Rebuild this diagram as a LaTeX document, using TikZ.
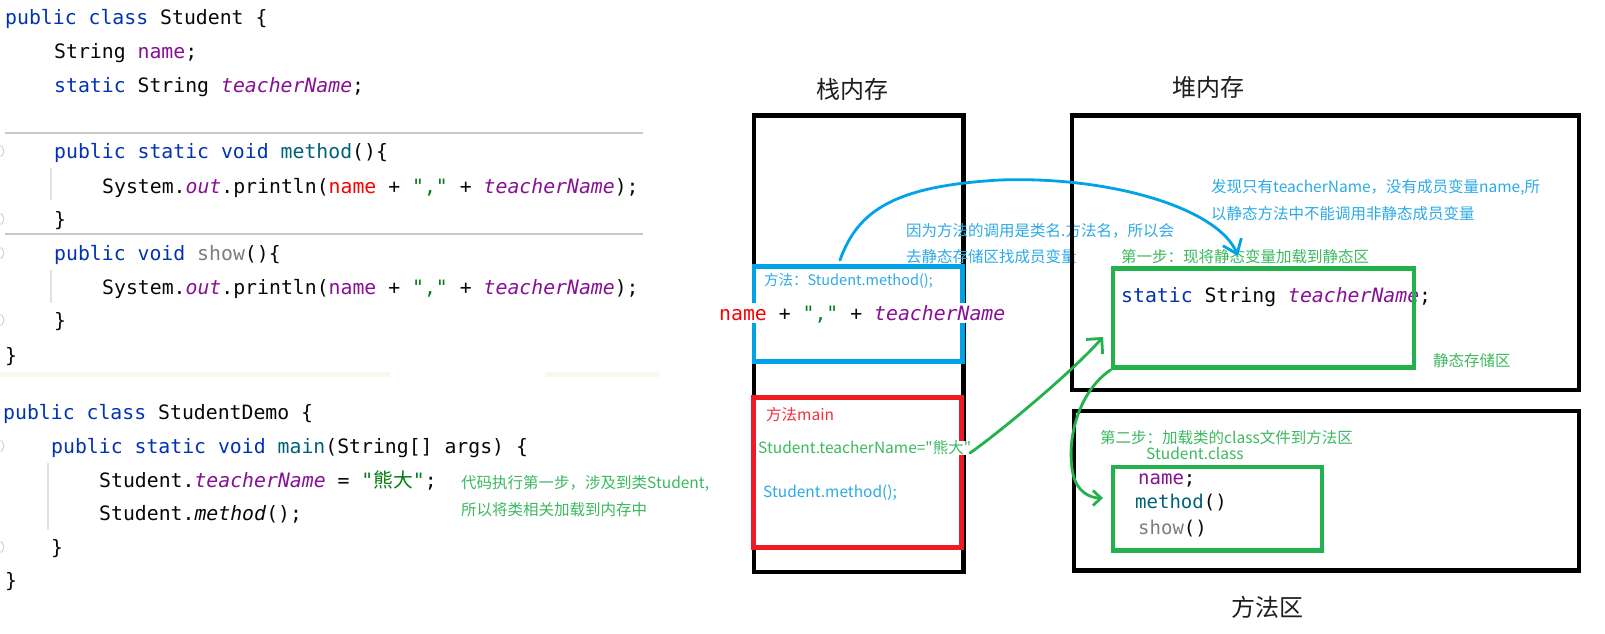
\documentclass[tikz,border=0pt]{standalone}
\usepackage{fontspec}
\setmonofont{DejaVu Sans Mono}
\newfontfamily\cjk{Noto Sans CJK SC}
\usetikzlibrary{arrows.meta}
\definecolor{kwblue}{RGB}{0,51,179}
\definecolor{fldpurple}{RGB}{135,16,148}
\definecolor{mthteal}{RGB}{0,98,122}
\definecolor{strgreen}{RGB}{6,125,23}
\definecolor{showgray}{RGB}{125,125,125}
\definecolor{codered}{RGB}{250,0,0}
\definecolor{codeblack}{RGB}{8,8,8}
\definecolor{hdrgray}{RGB}{30,30,30}
\definecolor{pblue}{RGB}{0,162,232}
\definecolor{pred}{RGB}{237,28,36}
\definecolor{pgreen}{RGB}{34,177,76}
\definecolor{annblue}{RGB}{45,170,230}
\definecolor{anngreen}{RGB}{60,185,95}
\definecolor{annred}{RGB}{240,50,60}
\definecolor{rulegray}{RGB}{200,200,200}
\definecolor{guidegray}{RGB}{225,225,225}
\definecolor{beige}{RGB}{250,247,235}
\newcommand\jkw[1]{\textcolor{kwblue}{#1}}
\newcommand\jfld[1]{\textcolor{fldpurple}{#1}}
\newcommand\jfi[1]{\textcolor{fldpurple}{\itshape #1}}
\newcommand\jmth[1]{\textcolor{mthteal}{#1}}
\newcommand\jstr[1]{\textcolor{strgreen}{#1}}
\newcommand\jgry[1]{\textcolor{showgray}{#1}}
\newcommand\jred[1]{\textcolor{codered}{#1}}
\tikzset{
  code/.style={anchor=west, inner sep=0pt, text=codeblack, font=\fontsize{19.8pt}{22pt}\selectfont\ttfamily, text height=18pt, text depth=2.3pt},
  code19/.style={anchor=west, inner sep=0pt, text=codeblack, font=\fontsize{19pt}{22pt}\selectfont\ttfamily, text height=14.4pt, text depth=4.7pt},
  ann/.style={anchor=west, inner sep=0pt, font=\fontsize{15.5pt}{18pt}\selectfont\cjk, text height=12.9pt, text depth=1.1pt},
  hdr/.style={inner sep=0pt, text=hdrgray, font=\fontsize{24pt}{28pt}\selectfont\cjk, text height=20pt, text depth=1.7pt},
  mem/.style={draw=black, line width=4.5pt, inner sep=0pt},
  pbox/.style={line width=4.5pt, inner sep=0pt},
  hand/.style={line width=2.8pt, line cap=round, line join=round},
  gutter/.style={draw=rulegray, line width=0.8pt},
}
\begin{document}
\begin{tikzpicture}[x=1pt,y=-1pt]
\fill[white] (0,0) rectangle (1605,633);
\useasboundingbox (0,0) rectangle (1605,633);

% editor decorations
\draw[rulegray, line width=1.5pt] (5,133) -- (643,133);
\draw[rulegray, line width=1.5pt] (5,234) -- (643,234);
\draw[beige, line width=5pt] (0,374) -- (390,374);
\draw[beige, line width=5pt] (545,374) -- (660,374);
\draw[guidegray, line width=1.2pt] (51,168) -- (51,200);
\draw[guidegray, line width=1.2pt] (51,270) -- (51,303);
\draw[guidegray, line width=1.2pt] (48,463) -- (48,530);
\foreach \gy in {151,219,253,320,446,547}
  \draw[gutter] (-2,\gy-5) -- (2,\gy-5) -- (4,\gy) -- (2,\gy+5) -- (-2,\gy+5);

% code
\node[code] (c1) at (5,17) {\jkw{public class} Student \{};
\node[code] (c2) at (54,51) {String \jfld{name};};
\node[code] (c3) at (54,85) {\jkw{static} String \jfi{teacherName};};
\node[code] (c4) at (54,151) {\jkw{public static void} \jmth{method}()\{};
\node[code] (c5) at (102,186) {System.\jfi{out}.println(\jred{name} + \jstr{","} + \jfi{teacherName});};
\node[code] (c6) at (54,219) {\}};
\node[code] (c7) at (54,253) {\jkw{public void} \jgry{show}()\{};
\node[code] (c8) at (102,287) {System.\jfi{out}.println(\jfld{name} + \jstr{","} + \jfi{teacherName});};
\node[code] (c9) at (54,320) {\}};
\node[code] (c10) at (5,355) {\}};
\node[code] (c11) at (3,412) {\jkw{public class} StudentDemo \{};
\node[code] (c12) at (51,446) {\jkw{public static void} \jmth{main}(String[] args) \{};
\node[code] (c13) at (99,480) {Student.\jfi{teacherName} = \jstr{"{\cjk 熊大}"};};
\node[code] (c14) at (99,513) {Student.\textit{method}();};
\node[code] (c15) at (51,547) {\}};
\node[code] (c16) at (5,580) {\}};
\node[ann, text=anngreen] (note1) at (461,483) {代码执行第一步，涉及到类Student,};
\node[ann, text=anngreen] (note2) at (461,510) {所以将类相关加载到内存中};

% headers
\node[hdr] (hstack) at (852,89) {栈内存};
\node[hdr] (hheap) at (1208,87) {堆内存};
\node[hdr] (hmeth) at (1267,607) {方法区};

% stack
\node[mem, minimum width=209.5pt, minimum height=456.5pt] (stack) at (858.75,343.75) {};
\node[pbox, draw=pblue, minimum width=208.5pt, minimum height=95pt] (mbox) at (858.25,314) {};
\node[pbox, draw=pred, minimum width=208pt, minimum height=150pt] (mainbox) at (857.5,472.5) {};
\node[ann, text=annblue, font=\fontsize{14.5pt}{17pt}\selectfont\cjk] (m1) at (764,280) {方法：Student.method();};
\node[code, fill=white] (expr) at (719,313) {\jred{name} + \jstr{","} + \jfi{teacherName}};
\node[ann, text=annred] (mainlbl) at (766,415) {方法main};
\node[ann, text=anngreen, fill=white] (tn) at (758,448) {Student.teacherName="熊大"};
\node[ann, text=annblue] (sm) at (763,492) {Student.method();};

% heap annotations
\node[ann, text=annblue] (why1) at (906,231) {因为方法的调用是类名.方法名，所以会};
\node[ann, text=annblue] (why2) at (906,257) {去静态存储区找成员变量};
\node[ann, text=annblue] (h1) at (1211,187) {发现只有teacherName，没有成员变量name,所};
\node[ann, text=annblue] (h2) at (1211,214) {以静态方法中不能调用非静态成员变量};
\node[ann, text=anngreen] (step1) at (1121,257) {第一步：现将静态变量加载到静态区};
\node[code] (sf) at (1121,295) {\jkw{static} String \jfi{teacherName};};
\node[ann, text=anngreen] (ssa) at (1433,361) {静态存储区};
\node[ann, text=anngreen] (step2) at (1100,438) {第二步：加载类的class文件到方法区};
\node[ann, text=anngreen] (scls) at (1146,454) {Student.class};
\node[code19] (f1) at (1138,480) {\jfld{name};};
\node[code19] (f2) at (1135,504) {\jmth{method}()};
\node[code19] (f3) at (1138,530) {\jgry{show}()};

% heap / method area boxes
\node[mem, minimum width=507pt, minimum height=274.5pt] (heap) at (1325.5,252.75) {};
\node[mem, minimum width=505pt, minimum height=159.5pt] (marea) at (1326.5,490.75) {};
\node[pbox, draw=pgreen, minimum width=301pt, minimum height=99pt] (static) at (1263.5,318) {};
\node[pbox, draw=pgreen, minimum width=209pt, minimum height=83.5pt] (cls) at (1217.5,508.75) {};

% connectors
\coordinate (bs) at (840,260);
\coordinate (b1) at (1000,180);
\coordinate (be) at (1238,256);
\draw[hand, pblue, -{Straight Barb[length=13pt,width=20pt]}] (bs) .. controls (858,210) and (895,186) .. (b1) .. controls (1110,176) and (1218,208) .. (be);
\coordinate (g1s) at (970,453);
\coordinate (g1e) at (1103,337);
\draw[hand, pgreen, -{Straight Barb[length=11pt,width=22pt]}] (g1s) .. controls (1000,432) and (1072,372) .. (g1e);
\coordinate (g2e) at (1103,498);
\draw[hand, pgreen, -{Straight Barb[length=8pt,width=15pt]}] (static.south west) .. controls (1078,392) and (1066,440) .. (1073,474) .. controls (1077,492) and (1090,498) .. (g2e);
\end{tikzpicture}
\end{document}
